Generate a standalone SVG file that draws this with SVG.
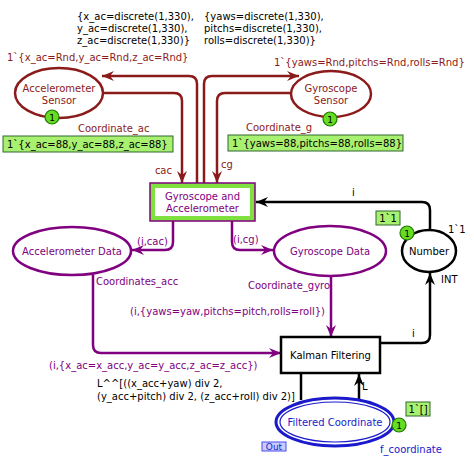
<svg xmlns="http://www.w3.org/2000/svg" width="474" height="460" viewBox="0 0 474 460">
<style>
text{font-family:"DejaVu Sans","Liberation Sans",sans-serif;font-size:10px}
.dr{fill:#8b1a1a}.pu{fill:#800080}.bk{fill:#000}.bl{fill:#1a1acc}
.c{text-anchor:middle}
.arc{fill:none;stroke-width:2.5}
.ard{stroke:#8b1a1a}.apu{stroke:#800080}.abk{stroke:#000}
.tok{fill:#66dd22;stroke:#227700;stroke-width:1.2}
.tokt{font-size:9px;text-anchor:middle;fill:#000}
.mk{fill:#a8f070;stroke:#336633;stroke-width:1}
</style>
<defs>
<marker id="mr" markerUnits="userSpaceOnUse" markerWidth="14" markerHeight="10" refX="12" refY="5" orient="auto"><path d="M0,0 L12,5 L0,10 L4,5 z" fill="#8b1a1a"/></marker>
<marker id="mp" markerUnits="userSpaceOnUse" markerWidth="14" markerHeight="10" refX="12" refY="5" orient="auto"><path d="M0,0 L12,5 L0,10 L4,5 z" fill="#800080"/></marker>
<marker id="mb" markerUnits="userSpaceOnUse" markerWidth="14" markerHeight="10" refX="12" refY="5" orient="auto"><path d="M0,0 L12,5 L0,10 L4,5 z" fill="#000"/></marker>
</defs>

<g id="connectors">
<path class="arc ard" d="M197,183 V84 Q197,76 189,76 H102" marker-end="url(#mr)"/>
<path class="arc ard" d="M103,93 H174 Q182,93 182,101 V183" marker-end="url(#mr)"/>
<path class="arc ard" d="M204,183 V84 Q204,76 212,76 H299" marker-end="url(#mr)"/>
<path class="arc ard" d="M291,93 H225 Q217,93 217,101 V183" marker-end="url(#mr)"/>
<path class="arc apu" d="M173,221 V242 Q173,250 165,250 H132" marker-end="url(#mp)"/>
<path class="arc apu" d="M232,221 V242 Q232,250 240,250 H273" marker-end="url(#mp)"/>
<path class="arc apu" d="M93,275 V345 Q93,353 101,353 H281" marker-end="url(#mp)"/>
<path class="arc apu" d="M331,276 V337" marker-end="url(#mp)"/>
<path class="arc abk" d="M380,343 H422 Q430,343 430,335 V273" marker-end="url(#mb)"/>
<path class="arc abk" d="M430,230 V210 Q430,202 422,202 H256" marker-end="url(#mb)"/>
<path class="arc abk" d="M301,373 V400"/>
<path class="arc abk" d="M359,399 V374" marker-end="url(#mb)"/>
</g>

<g id="connector-labels">
<text class="dr" x="172" y="174" text-anchor="end">cac</text>
<text class="dr" x="221" y="168">cg</text>
<text class="pu" x="137" y="245">(i,cac)</text>
<text class="pu" x="233" y="243">(i,cg)</text>
<text class="pu" x="130" y="315">(i,{yaws=yaw,pitchs=pitch,rolls=roll})</text>
<text class="pu" x="49" y="369">(i,{x_ac=x_acc,y_ac=y_acc,z_ac=z_acc})</text>
<text class="bk" x="97" y="387">L^^[((x_acc+yaw) div 2,</text>
<text class="bk" x="97" y="400">(y_acc+pitch) div 2, (z_acc+roll) div 2)]</text>
<text class="bk" x="362" y="390">L</text>
<text class="bk" x="412" y="337">i</text>
<text class="bk" x="352" y="196">i</text>
</g>

<g id="acc-sensor">
<text class="bk" x="77" y="20">{x_ac=discrete(1,330),</text>
<text class="bk" x="77" y="32">y_ac=discrete(1,330),</text>
<text class="bk" x="77" y="44">z_ac=discrete(1,330)}</text>
<text class="dr" x="7" y="61">1`{x_ac=Rnd,y_ac=Rnd,z_ac=Rnd}</text>
<ellipse cx="59" cy="93" rx="44" ry="25" fill="#fff" stroke="#8b1a1a" stroke-width="2.5"/>
<text class="dr c" x="59" y="92">Accelerometer</text>
<text class="dr c" x="59" y="104">Sensor</text>
<circle class="tok" cx="52" cy="117" r="7"/>
<text class="tokt" x="52" y="120.5">1</text>
<text class="dr" x="78" y="132">Coordinate_ac</text>
<rect class="mk" x="3" y="136" width="170" height="16"/>
<text class="bk" x="7" y="148">1`{x_ac=88,y_ac=88,z_ac=88}</text>
</g>

<g id="gyro-sensor">
<text class="bk" x="204" y="20">{yaws=discrete(1,330),</text>
<text class="bk" x="204" y="32">pitchs=discrete(1,330),</text>
<text class="bk" x="204" y="44">rolls=discrete(1,330)}</text>
<text class="dr" x="274" y="66">1`{yaws=Rnd,pitchs=Rnd,rolls=Rnd}</text>
<ellipse cx="331" cy="94" rx="40" ry="23" fill="#fff" stroke="#8b1a1a" stroke-width="2.5"/>
<text class="dr c" x="331" y="92">Gyroscope</text>
<text class="dr c" x="331" y="104">Sensor</text>
<circle class="tok" cx="330" cy="119" r="7"/>
<text class="tokt" x="330" y="122.5">1</text>
<text class="dr" x="246" y="131">Coordinate_g</text>
<rect class="mk" x="228" y="135" width="175" height="16"/>
<text class="bk" x="232" y="147">1`{yaws=88,pitchs=88,rolls=88}</text>
</g>

<g id="gyro-acc-transition">
<rect x="150" y="183" width="105" height="38" fill="#7fe040" stroke="#800080" stroke-width="1.5"/>
<rect x="155" y="188" width="95" height="28" fill="#fff"/>
<text class="pu c" x="202.5" y="200">Gyroscope and</text>
<text class="pu c" x="202.5" y="212">Accelerometer</text>
</g>

<g id="acc-data">
<ellipse cx="72" cy="251" rx="59" ry="24" fill="#fff" stroke="#800080" stroke-width="2.5"/>
<text class="pu c" x="72" y="255">Accelerometer Data</text>
<text class="pu" x="96" y="285">Coordinates_acc</text>
</g>

<g id="gyro-data">
<ellipse cx="330" cy="251" rx="56" ry="25" fill="#fff" stroke="#800080" stroke-width="2.5"/>
<text class="pu c" x="330" y="255">Gyroscope Data</text>
<text class="pu" x="248" y="289">Coordinate_gyro</text>
</g>

<g id="number">
<ellipse cx="429" cy="251" rx="27" ry="21" fill="#fff" stroke="#000" stroke-width="2.5"/>
<text class="bk c" x="429" y="255">Number</text>
<circle class="tok" cx="407" cy="233" r="7"/>
<text class="tokt" x="407" y="236.5">1</text>
<rect class="mk" x="376" y="211" width="24" height="14"/>
<text class="bk c" x="388" y="222">1`1</text>
<text class="bk" x="448" y="233">1`1</text>
<text class="bk" x="441" y="283">INT</text>
</g>

<g id="kalman">
<rect x="281" y="337" width="99" height="36" fill="#fff" stroke="#000" stroke-width="2.5"/>
<text class="bk c" x="330.5" y="359">Kalman Filtering</text>
</g>

<g id="filtered">
<ellipse cx="335" cy="422" rx="59" ry="24" fill="#fff" stroke="#1a1acc" stroke-width="3"/>
<ellipse cx="335" cy="422" rx="55" ry="20" fill="none" stroke="#1a1acc" stroke-width="1.2"/>
<text class="bl c" x="335" y="426">Filtered Coordinate</text>
<circle class="tok" cx="399" cy="425" r="7"/>
<text class="tokt" x="399" y="428.5">1</text>
<rect class="mk" x="406" y="402" width="24" height="14"/>
<text class="bk c" x="418" y="413">1`[]</text>
<rect x="262" y="442" width="24" height="9" fill="#c8ccff" stroke="#4a4aee" stroke-width="1"/>
<text class="bl c" x="274" y="450" style="font-size:9px">Out</text>
<text class="bl" x="380" y="453">f_coordinate</text>
</g>
</svg>
